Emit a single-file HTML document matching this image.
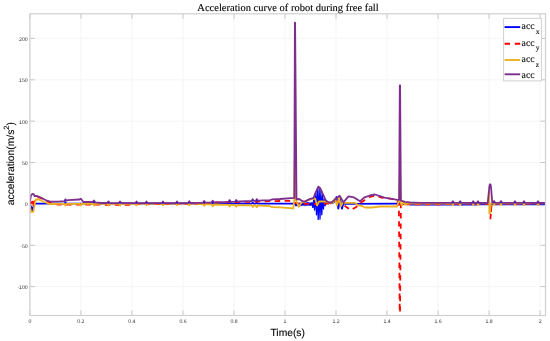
<!DOCTYPE html>
<html><head><meta charset="utf-8"><title>Acceleration curve of robot during free fall</title>
<style>html,body{margin:0;padding:0;background:#fff;width:550px;height:341px;overflow:hidden}svg{display:block;text-rendering:geometricPrecision;filter:blur(0.3px)}</style>
</head><body>
<svg width="550" height="341" viewBox="0 0 550 341">
<rect width="550" height="341" fill="#fff"/>
<g stroke="#f5f5f5" stroke-width="1"><line x1="29.9" y1="13.8" x2="29.9" y2="315.5"/><line x1="80.9" y1="13.8" x2="80.9" y2="315.5"/><line x1="131.9" y1="13.8" x2="131.9" y2="315.5"/><line x1="183.0" y1="13.8" x2="183.0" y2="315.5"/><line x1="234.0" y1="13.8" x2="234.0" y2="315.5"/><line x1="285.0" y1="13.8" x2="285.0" y2="315.5"/><line x1="336.0" y1="13.8" x2="336.0" y2="315.5"/><line x1="387.0" y1="13.8" x2="387.0" y2="315.5"/><line x1="438.1" y1="13.8" x2="438.1" y2="315.5"/><line x1="489.1" y1="13.8" x2="489.1" y2="315.5"/><line x1="540.1" y1="13.8" x2="540.1" y2="315.5"/><line x1="29.9" y1="286.6" x2="545.5" y2="286.6"/><line x1="29.9" y1="245.3" x2="545.5" y2="245.3"/><line x1="29.9" y1="203.9" x2="545.5" y2="203.9"/><line x1="29.9" y1="162.5" x2="545.5" y2="162.5"/><line x1="29.9" y1="121.2" x2="545.5" y2="121.2"/><line x1="29.9" y1="79.8" x2="545.5" y2="79.8"/><line x1="29.9" y1="38.4" x2="545.5" y2="38.4"/></g>
<g stroke="#c8c8c8" stroke-width="1"><line x1="29.9" y1="315.5" x2="29.9" y2="310.5"/><line x1="29.9" y1="13.8" x2="29.9" y2="18.8"/><line x1="80.9" y1="315.5" x2="80.9" y2="310.5"/><line x1="80.9" y1="13.8" x2="80.9" y2="18.8"/><line x1="131.9" y1="315.5" x2="131.9" y2="310.5"/><line x1="131.9" y1="13.8" x2="131.9" y2="18.8"/><line x1="183.0" y1="315.5" x2="183.0" y2="310.5"/><line x1="183.0" y1="13.8" x2="183.0" y2="18.8"/><line x1="234.0" y1="315.5" x2="234.0" y2="310.5"/><line x1="234.0" y1="13.8" x2="234.0" y2="18.8"/><line x1="285.0" y1="315.5" x2="285.0" y2="310.5"/><line x1="285.0" y1="13.8" x2="285.0" y2="18.8"/><line x1="336.0" y1="315.5" x2="336.0" y2="310.5"/><line x1="336.0" y1="13.8" x2="336.0" y2="18.8"/><line x1="387.0" y1="315.5" x2="387.0" y2="310.5"/><line x1="387.0" y1="13.8" x2="387.0" y2="18.8"/><line x1="438.1" y1="315.5" x2="438.1" y2="310.5"/><line x1="438.1" y1="13.8" x2="438.1" y2="18.8"/><line x1="489.1" y1="315.5" x2="489.1" y2="310.5"/><line x1="489.1" y1="13.8" x2="489.1" y2="18.8"/><line x1="540.1" y1="315.5" x2="540.1" y2="310.5"/><line x1="540.1" y1="13.8" x2="540.1" y2="18.8"/><line x1="29.9" y1="286.6" x2="34.9" y2="286.6"/><line x1="545.5" y1="286.6" x2="540.5" y2="286.6"/><line x1="29.9" y1="245.3" x2="34.9" y2="245.3"/><line x1="545.5" y1="245.3" x2="540.5" y2="245.3"/><line x1="29.9" y1="203.9" x2="34.9" y2="203.9"/><line x1="545.5" y1="203.9" x2="540.5" y2="203.9"/><line x1="29.9" y1="162.5" x2="34.9" y2="162.5"/><line x1="545.5" y1="162.5" x2="540.5" y2="162.5"/><line x1="29.9" y1="121.2" x2="34.9" y2="121.2"/><line x1="545.5" y1="121.2" x2="540.5" y2="121.2"/><line x1="29.9" y1="79.8" x2="34.9" y2="79.8"/><line x1="545.5" y1="79.8" x2="540.5" y2="79.8"/><line x1="29.9" y1="38.4" x2="34.9" y2="38.4"/><line x1="545.5" y1="38.4" x2="540.5" y2="38.4"/></g>
<g fill="none" stroke-width="1.8" stroke-linejoin="round" clip-path="url(#c)">
<polyline points="29.8,203.9 32.3,210.2 34.5,203.6 34.5,203.6 64.4,203.6 65.4,202.6 66.4,203.6 93.0,203.6 94.0,202.6 95.0,203.6 107.5,203.6 108.5,202.6 109.5,203.6 119.0,203.5 120.0,202.5 121.0,203.5 135.5,203.5 136.5,202.5 137.5,203.5 145.5,203.5 146.5,202.5 147.5,203.5 162.0,203.5 163.0,202.5 164.0,203.5 176.0,203.5 177.0,202.5 178.0,203.5 188.3,203.5 189.3,202.5 190.3,203.5 200.0,203.5 203.2,203.5 204.2,202.5 205.2,203.5 211.7,203.5 212.7,202.5 213.7,203.5 228.6,203.6 229.6,202.6 230.6,203.6 235.2,203.6 236.2,202.6 237.2,203.6 251.7,203.6 252.7,202.6 253.7,203.6 255.7,203.6 256.7,202.6 257.7,203.6 293.0,203.7 293.5,203.7 294.5,203.0 296.0,205.5 297.0,202.5 298.5,206.0 300.0,203.2 301.0,205.3 302.0,202.8 303.0,205.0 304.0,202.9 305.0,205.2 306.0,203.0 307.0,205.0 308.0,202.8 309.0,205.0 310.0,203.1 311.0,205.0 312.0,203.0 313.0,204.3 312.8,207.0 326.0,203.0 333.0,202.8 335.0,201.0 336.5,197.0 338.3,208.7 340.0,199.0 342.0,208.7 343.5,203.0 345.0,203.9 345.0,203.9 398.0,203.7 399.5,203.0 401.0,204.0 410.0,204.2 410.0,204.5 451.8,204.5 452.8,203.5 453.8,204.5 459.2,204.5 460.2,203.5 461.2,204.5 472.2,204.5 473.2,203.5 474.2,204.5 477.0,204.5 478.0,203.4 479.0,204.4 493.0,204.4 494.0,203.4 495.0,204.4 500.0,204.4 501.0,203.4 502.0,204.4 514.0,204.4 515.0,203.4 516.0,204.4 523.0,204.4 524.0,203.4 525.0,204.4 537.0,204.4 538.0,203.4 539.0,204.4 545.0,204.4 546.0,204.4" stroke="#0000ff"/>
<polyline points="313.0,203.5 312.8,207.0 313.7,200.0 314.6,210.0 315.5,193.0 316.5,214.8 317.3,189.0 318.2,219.5 319.1,188.0 320.0,219.0 320.9,191.0 321.8,214.8 322.6,195.0 323.5,209.0 324.3,199.5 325.2,205.5 326.0,203.0" stroke="#0000ff" stroke-width="1.3"/>
<polyline points="29.8,204.0 32.3,201.6 32.8,206.9 35.0,199.0 37.0,197.4 40.0,197.6 45.0,200.0 50.0,202.5 58.0,204.6 83.0,204.7 84.0,205.6 85.0,204.7 91.0,204.7 92.0,205.5 93.0,204.7 128.0,204.8 140.0,204.1 195.0,204.0 215.0,202.6 235.0,202.0 250.0,201.9 258.0,201.5 270.0,201.1 293.0,200.9 295.0,203.0 300.0,203.8 313.0,203.8 330.0,203.6" stroke="#ff0000" stroke-dasharray="5.5,4.5"/>
<polyline points="330.0,203.6 336.0,201.0 340.0,202.0 345.6,206.5 350.8,210.2 355.9,207.2 362.5,201.4 369.8,197.0 375.7,195.5 381.5,197.7 397.0,199.5 398.5,203.5 400.0,204.2 410.0,204.4 445.0,204.2 470.0,203.6 489.8,203.8 492.0,203.7 545.0,203.7" stroke="#ff0000" stroke-dasharray="5.5,4.5" stroke-dashoffset="3.6"/>
<path d="M398.9,204 L399.7,312.2" stroke="#ff0000" stroke-dasharray="5.4,4.94" stroke-dashoffset="3.54"/>
<path d="M400.9,204 L400.0,312.2" stroke="#ff0000" stroke-dasharray="5.4,4.94" stroke-dashoffset="1.24"/>
<path d="M491.5,205.5 L490.9,212.3 L490.4,219.3" stroke="#ff0000" stroke-dasharray="6.8,1.6"/>
<polyline points="29.8,204.4 30.9,211.8 33.3,211.8 34.6,205.0 35.8,199.5 38.7,199.5 44.4,202.0 49.4,204.0 60.0,203.8 64.4,203.8 65.4,205.5 66.4,203.8 79.7,203.8 80.7,205.5 81.7,203.8 93.0,203.8 94.0,205.5 95.0,203.8 107.5,203.8 108.5,205.5 109.5,203.8 119.0,203.8 120.0,205.5 121.0,203.8 135.5,203.7 136.5,205.4 137.5,203.7 145.5,203.7 146.5,205.4 147.5,203.7 162.0,203.7 163.0,205.4 164.0,203.7 176.0,203.7 177.0,205.4 178.0,203.7 188.3,203.7 189.3,205.4 190.3,203.7 195.0,203.7 200.0,204.1 203.2,204.2 204.2,205.9 205.2,204.2 211.7,204.4 212.7,206.2 213.7,204.5 228.6,204.9 229.6,206.6 230.6,205.0 235.0,205.1 235.2,205.1 236.2,206.8 237.2,205.1 250.0,205.3 251.7,205.4 252.7,207.1 253.7,205.4 255.7,205.5 256.7,207.2 257.7,205.5 260.0,205.6 270.0,206.2 272.0,207.2 280.0,207.3 290.0,208.1 293.3,208.5 294.2,200.0 294.8,158.0 295.1,158.0 295.6,200.0 296.2,200.5 298.8,206.7 300.6,203.8 302.1,202.2 304.5,201.9 309.0,199.8 313.5,198.4 315.4,198.9 317.0,205.6 319.0,201.5 325.8,201.5 328.0,202.5 333.0,202.5 335.0,198.5 337.0,205.5 339.0,198.0 341.0,206.0 343.0,202.0 345.0,202.8 355.0,202.9 358.0,205.2 362.0,206.2 365.0,207.5 372.0,207.5 380.0,206.5 397.0,206.5 399.2,200.0 399.8,173.0 400.1,173.0 400.7,203.0 402.0,205.5 403.5,201.5 405.0,204.5 407.0,203.6 407.0,203.5 451.8,203.4 452.8,205.1 453.8,203.4 459.2,203.4 460.2,205.1 461.2,203.4 472.2,203.4 473.2,205.1 474.2,203.4 477.0,203.4 478.0,205.1 479.0,203.4 487.8,203.4 488.0,203.4 489.2,192.0 489.4,213.5 490.0,213.0 490.7,203.6 491.6,203.4 493.0,203.4 494.0,205.1 495.0,203.4 500.0,203.4 501.0,205.1 502.0,203.4 514.0,203.4 515.0,205.1 516.0,203.4 523.0,203.4 524.0,205.1 525.0,203.4 537.0,203.4 538.0,205.1 539.0,203.4 545.0,203.4 546.0,203.4" stroke="#edb120"/>
<polyline points="29.8,203.5 30.9,195.4 32.5,193.9 33.9,194.4 34.6,196.2 35.8,196.0 37.9,196.2 42.0,198.3 46.1,200.3 50.2,201.6 58.0,201.6 64.2,201.2 64.6,201.2 65.4,199.3 66.6,200.6 68.0,200.2 79.5,199.5 80.9,198.7 83.4,202.0 92.5,202.0 92.8,202.0 94.0,200.5 95.2,202.3 100.8,203.0 107.3,203.0 108.5,201.4 109.7,203.1 115.0,203.1 118.8,203.1 120.0,201.4 121.2,203.1 135.3,203.2 136.5,201.5 137.7,203.2 140.0,203.2 145.3,203.2 146.5,201.5 147.7,203.2 161.8,203.2 163.0,201.5 164.2,203.2 175.8,203.2 177.0,201.5 178.2,203.2 180.0,203.2 188.1,203.0 189.3,201.3 190.5,203.0 200.0,202.8 203.0,202.7 204.2,201.0 205.4,202.6 211.5,202.4 212.7,200.7 213.9,202.3 228.4,201.9 229.6,200.1 230.8,201.8 235.0,201.7 236.2,199.9 237.4,201.6 240.0,201.5 251.5,201.0 252.7,199.2 253.9,200.9 255.5,200.8 256.0,200.8 256.7,199.1 257.9,200.7 270.0,200.1 272.5,199.3 280.0,199.0 294.3,197.8 294.9,22.6 295.1,22.6 296.5,199.4 299.2,199.0 302.5,201.2 304.7,201.6 309.0,199.4 313.5,197.9 315.7,192.4 318.4,186.6 320.0,188.0 322.0,192.0 325.9,200.6 328.8,202.5 331.7,202.1 339.6,195.8 343.4,202.3 348.5,196.3 354.0,197.4 360.0,201.3 364.0,197.7 369.8,195.5 375.0,194.5 384.5,197.7 397.4,199.8 399.1,199.9 399.8,85.3 400.1,85.3 400.9,200.6 405.0,201.8 410.0,202.5 410.0,202.5 420.0,202.8 451.6,202.9 452.8,201.2 454.0,202.9 459.0,202.9 460.2,201.2 461.4,202.9 472.0,203.0 473.2,201.3 474.4,203.0 476.8,203.0 478.0,201.3 479.2,203.0 487.8,203.0 489.3,187.0 489.8,184.4 490.5,184.4 491.0,187.0 492.3,202.8 492.3,202.8 492.8,202.8 494.0,201.1 495.2,202.8 499.8,202.8 501.0,201.1 502.2,202.8 513.8,202.9 515.0,201.2 516.2,202.9 522.8,202.9 524.0,201.2 525.2,202.9 536.8,203.0 538.0,201.3 539.2,203.0 545.0,203.0 546.0,203.0" stroke="#7e2f8e"/>
<g fill="#2a18c8" stroke="none"><circle cx="65.4" cy="200.7" r="0.8"/><circle cx="94.0" cy="201.9" r="0.8"/><circle cx="108.5" cy="202.8" r="0.8"/><circle cx="120.0" cy="202.8" r="0.8"/><circle cx="136.5" cy="202.9" r="0.8"/><circle cx="146.5" cy="202.9" r="0.8"/><circle cx="163.0" cy="202.9" r="0.8"/><circle cx="177.0" cy="202.9" r="0.8"/><circle cx="189.3" cy="202.7" r="0.8"/><circle cx="204.2" cy="202.4" r="0.8"/><circle cx="212.7" cy="202.1" r="0.8"/><circle cx="229.6" cy="201.5" r="0.8"/><circle cx="236.2" cy="201.3" r="0.8"/><circle cx="252.7" cy="200.6" r="0.8"/><circle cx="256.7" cy="200.5" r="0.8"/><circle cx="452.8" cy="202.6" r="0.8"/><circle cx="460.2" cy="202.6" r="0.8"/><circle cx="473.2" cy="202.7" r="0.8"/><circle cx="478.0" cy="202.7" r="0.8"/><circle cx="494.0" cy="202.5" r="0.8"/><circle cx="501.0" cy="202.5" r="0.8"/><circle cx="515.0" cy="202.6" r="0.8"/><circle cx="524.0" cy="202.6" r="0.8"/><circle cx="538.0" cy="202.7" r="0.8"/></g>
</g>
<defs><clipPath id="c"><rect x="29.9" y="13.8" width="515.6" height="301.7"/></clipPath></defs>
<rect x="29.9" y="13.8" width="515.6" height="301.7" fill="none" stroke="#d0d0d0" stroke-width="1.2"/>
<g font-family="'Liberation Sans', sans-serif" font-size="5.2" fill="#333" text-anchor="middle"><text x="29.9" y="323">0</text><text x="80.9" y="323">0.2</text><text x="131.9" y="323">0.4</text><text x="183.0" y="323">0.6</text><text x="234.0" y="323">0.8</text><text x="285.0" y="323">1</text><text x="336.0" y="323">1.2</text><text x="387.0" y="323">1.4</text><text x="438.1" y="323">1.6</text><text x="489.1" y="323">1.8</text><text x="540.1" y="323">2</text></g>
<g font-family="'Liberation Sans', sans-serif" font-size="5.2" fill="#333" text-anchor="end"><text x="27.7" y="289.1">-100</text><text x="27.7" y="247.8">-50</text><text x="27.7" y="206.4">0</text><text x="27.7" y="165.0">50</text><text x="27.7" y="123.7">100</text><text x="27.7" y="82.3">150</text><text x="27.7" y="40.9">200</text></g>
<text x="288.0" y="11.1" text-anchor="middle" font-family="'Liberation Serif', serif" font-size="10.5" fill="#000" stroke="#000" stroke-width="0.12">Acceleration curve of robot during free fall</text>
<text x="287.7" y="335.6" text-anchor="middle" font-family="'Liberation Sans', sans-serif" font-size="10.3" fill="#000" stroke="#000" stroke-width="0.1">Time(s)</text>
<text transform="translate(14,163.6) rotate(-90)" text-anchor="middle" font-family="'Liberation Sans', sans-serif" font-size="10.3" fill="#000" stroke="#000" stroke-width="0.1">acceleration(m/s<tspan dy="-4.6" font-size="7.6">2</tspan><tspan dy="4.6">)</tspan></text>
<rect x="503.6" y="18.3" width="37.8" height="62.6" fill="#fff" stroke="#d0d0d0" stroke-width="1"/><line x1="504.6" y1="27.1" x2="520.2" y2="27.1" stroke="#0000ff" stroke-width="1.9"/><text x="521.6" y="29.0" font-family="'Liberation Serif', serif" font-size="9.8" fill="#000" stroke="#000" stroke-width="0.1">acc<tspan dx="1.0" dy="4.7" font-size="7.6">x</tspan></text><line x1="504.6" y1="43.8" x2="520.2" y2="43.8" stroke="#ff0000" stroke-width="1.9" stroke-dasharray="5.4,4.8"/><text x="521.6" y="45.7" font-family="'Liberation Serif', serif" font-size="9.8" fill="#000" stroke="#000" stroke-width="0.1">acc<tspan dx="1.0" dy="4.7" font-size="7.6">y</tspan></text><line x1="504.6" y1="60.0" x2="520.2" y2="60.0" stroke="#edb120" stroke-width="1.9"/><text x="521.6" y="61.9" font-family="'Liberation Serif', serif" font-size="9.8" fill="#000" stroke="#000" stroke-width="0.1">acc<tspan dx="1.0" dy="4.7" font-size="7.6">z</tspan></text><line x1="504.6" y1="74.3" x2="520.2" y2="74.3" stroke="#7e2f8e" stroke-width="1.9"/><text x="521.6" y="78.1" font-family="'Liberation Serif', serif" font-size="9.8" fill="#000" stroke="#000" stroke-width="0.1">acc</text>
</svg>
</body></html>
